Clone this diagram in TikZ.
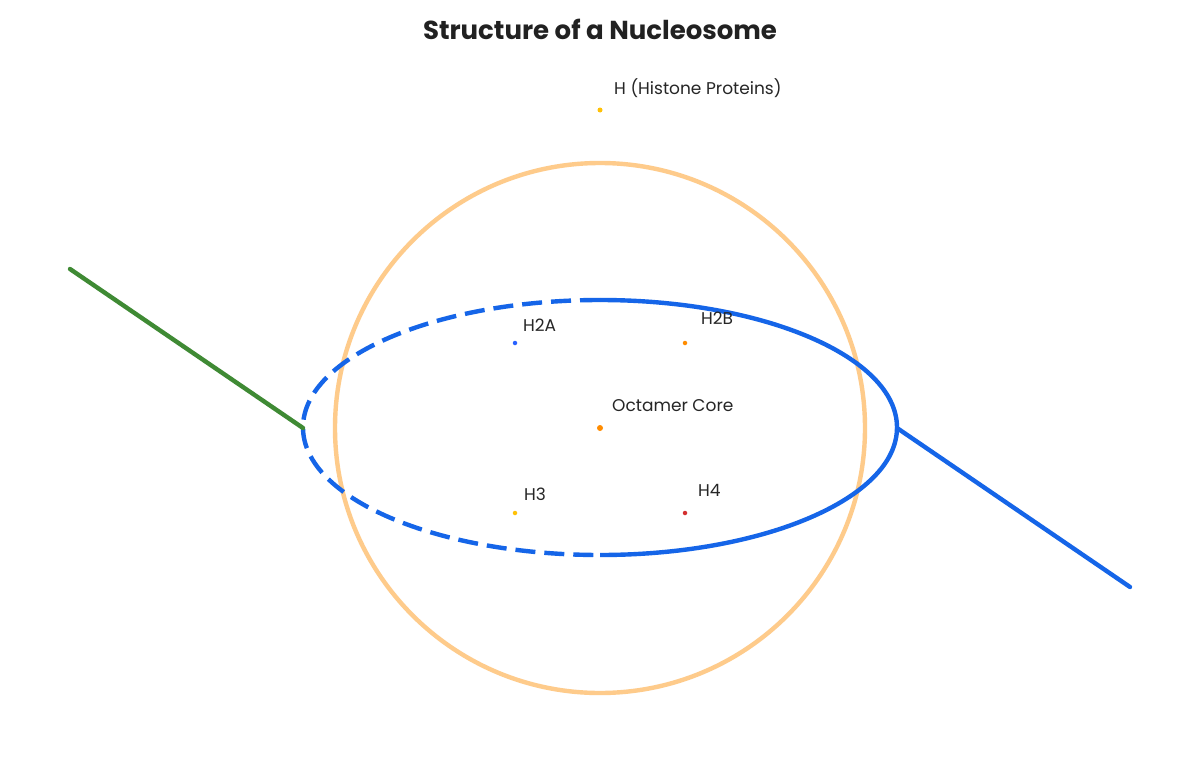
\documentclass[tikz,border=0pt]{standalone}
\usepackage{fontspec}
\setmainfont{Poppins}
\begin{document}
\begin{tikzpicture}[x=1pt,y=-1pt,
  lbl/.style={anchor=west,inner sep=0pt,font=\fontsize{17}{19}\selectfont,text=black!85},
  dotc/.style={circle,inner sep=0pt,minimum size=4.5pt,fill=#1},
  dna/.style={line width=4.4pt,draw=dnablue},
]
\definecolor{dnablue}{HTML}{1565E8}
\definecolor{corange}{HTML}{FECB8B}
\definecolor{dgreen}{HTML}{3F8A34}
\definecolor{dyellow}{HTML}{FFC107}
\definecolor{dblue}{HTML}{2962FF}
\definecolor{dorange}{HTML}{FF8C00}
\definecolor{dred}{HTML}{D32F2F}
\useasboundingbox[fill=white] (0,0) rectangle (1200,763);
\node[font=\fontsize{26}{30}\selectfont\bfseries,text=black!87] (title) at (600,29) {Structure of a Nucleosome};
% histone sphere
\draw[corange,line width=4.4pt] (600,428) circle[radius=265];
% DNA wrap
\coordinate (etop) at (600,300);
\coordinate (ebot) at (600,555);
\coordinate (eleft) at (303,428);
\coordinate (eright) at (897,428);
\draw[dna,dash pattern=on 20pt off 9pt] (etop) arc[start angle=90,end angle=270,x radius=297,y radius=-127.5];
\draw[dna] (ebot) arc[start angle=270,end angle=450,x radius=297,y radius=-127.5];
% linker DNA
\coordinate (gstart) at (70,269);
\coordinate (bend) at (1130,587);
\draw[dgreen,line width=4.4pt,line cap=round] (gstart) -- (eleft);
\draw[dna,line cap=round] (eright) -- (bend);
% dots
\node[dotc=dyellow,minimum size=5pt] (h) at (600,110) {};
\node[dotc=dblue] (h2a) at (515,343) {};
\node[dotc=dorange] (h2b) at (685,343) {};
\node[dotc=dorange,minimum size=6pt] (core) at (600,428) {};
\node[dotc=dyellow] (h3) at (515,513) {};
\node[dotc=dred] (h4) at (685,513) {};
% labels
\node[lbl] (hl) at (614,88) {H (Histone Proteins)};
\node[lbl] (h2al) at (523,325) {H2A};
\node[lbl] (h2bl) at (701,318) {H2B};
\node[lbl] (corel) at (612,406) {Octamer Core};
\node[lbl] (h3l) at (524,494) {H3};
\node[lbl] (h4l) at (698,490) {H4};
\end{tikzpicture}
\end{document}
